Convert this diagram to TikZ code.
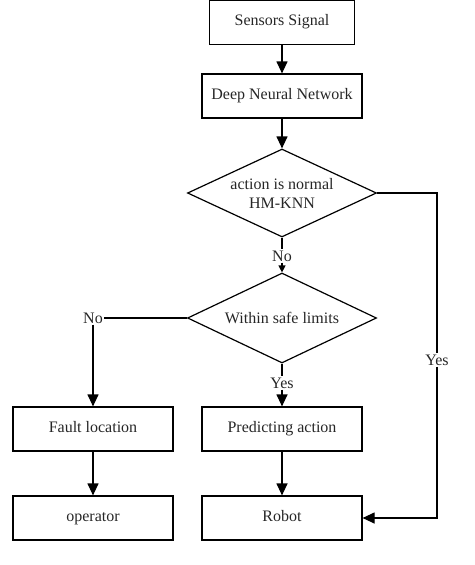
\documentclass[tikz,border=0pt]{standalone}
\usepackage{fontspec}
\setmainfont{Liberation Serif}
\usetikzlibrary{shapes.geometric,arrows.meta}
\begin{document}
\begin{tikzpicture}[x=1pt,y=-1pt,
  every node/.style={font=\fontsize{16}{19}\selectfont, text=black!85},
  box/.style={draw, line width=1.2pt, minimum height=44pt, inner sep=2pt, text height=0.66em, text depth=0pt},
  dia/.style={draw, diamond, line width=1.2pt, inner sep=0pt, align=center},
  lbl/.style={inner sep=1pt},
  conn/.style={line width=1.2pt},
  big/.style={conn, -{Triangle[length=12pt,width=11pt]}},
  small/.style={conn, -{Triangle[length=7pt,width=7pt]}}
]
\useasboundingbox (0,0) rectangle (474,565);
\node[box, minimum width=145pt] (s) at (282,22.5) {Sensors Signal};
\node[box, minimum width=160pt] (dnn) at (282,96) {Deep Neural Network};
\node[dia, aspect=2.15, minimum width=189pt, minimum height=88pt] (d1) at (282,193) {action is normal\\HM-KNN};
\node[lbl] (no1) at (282,256) {No};
\node[dia, aspect=2.1, minimum width=189pt, minimum height=90pt] (d2) at (282,318) {Within safe limits};
\node[lbl] (no2) at (93,318) {No};
\node[lbl] (yes2) at (282,383) {Yes};
\node[box, minimum width=160pt] (fault) at (93,429) {Fault location};
\node[box, minimum width=160pt] (op) at (93,518) {operator};
\node[box, minimum width=160pt] (pred) at (282,429) {Predicting action};
\node[box, minimum width=160pt] (robot) at (282,518) {Robot};
\node[lbl] (yes3) at (437,360) {Yes};
\coordinate (c1) at (437,193);
\coordinate (c2) at (437,518);

\draw[big] (s) -- (dnn);
\draw[big] (dnn) -- (d1);
\draw[conn] (d1.south) -- (no1.north);
\draw[small] (no1.south) -- (d2.north);
\draw[conn] (d2.west) -- (no2.east);
\draw[big] (no2.south) -- (fault.north);
\draw[conn] (d2.south) -- (yes2.north);
\draw[big] (yes2.south) -- (pred.north);
\draw[big] (fault) -- (op);
\draw[big] (pred) -- (robot);
\draw[conn] (d1.east) -- (c1) -- (yes3.north);
\draw[big] (yes3.south) -- (c2) -- (robot.east);
\end{tikzpicture}
\end{document}
